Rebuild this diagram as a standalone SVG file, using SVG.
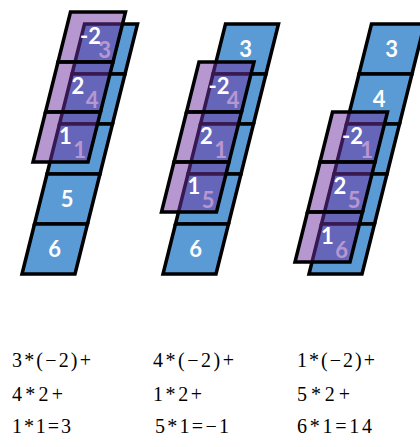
<svg xmlns="http://www.w3.org/2000/svg" width="420" height="447" viewBox="0 0 420 447">
<style>
.b{fill:#5B9BD5;stroke:#000;stroke-width:3.5;stroke-linejoin:miter}
.p{fill:#7030A0;fill-opacity:0.5;stroke:#000;stroke-width:3.5;stroke-linejoin:miter}
.n{font-family:Lato,'Open Sans','Liberation Sans',sans-serif;font-weight:bold;font-size:22px;fill:#fff;text-anchor:middle}
.e{font-family:'Liberation Serif','DejaVu Serif',serif;font-size:20px;fill:#000}
</style>
<rect width="420" height="447" fill="#fff"/>
<!-- column 1 -->
<g id="c1-0"><polygon class="b" points="84.5,24 137.5,24 125,74 72,74"/><text class="n" x="104.75" y="58">3</text></g>
<g id="c1-1"><polygon class="b" points="72,74 125,74 112.5,124 59.5,124"/><text class="n" x="92.25" y="108">4</text></g>
<g id="c1-2"><polygon class="b" points="59.5,124 112.5,124 100,174 47,174"/><text class="n" x="79.75" y="158">1</text></g>
<g id="c1-3"><polygon class="b" points="47,174 100,174 87.5,224 34.5,224"/><text class="n" x="67.25" y="207">5</text></g>
<g id="c1-4"><polygon class="b" points="34.5,224 87.5,224 75,274 22,274"/><text class="n" x="54.75" y="257">6</text></g>
<!-- column 2 -->
<g id="c2-0"><polygon class="b" points="225.5,24 278.5,24 266,74 213,74"/><text class="n" x="245.75" y="57">3</text></g>
<g id="c2-1"><polygon class="b" points="213,74 266,74 253.5,124 200.5,124"/><text class="n" x="233.25" y="108">4</text></g>
<g id="c2-2"><polygon class="b" points="200.5,124 253.5,124 241,174 188,174"/><text class="n" x="220.75" y="158">1</text></g>
<g id="c2-3"><polygon class="b" points="188,174 241,174 228.5,224 175.5,224"/><text class="n" x="208.25" y="208">5</text></g>
<g id="c2-4"><polygon class="b" points="175.5,224 228.5,224 216,274 163,274"/><text class="n" x="195.75" y="257">6</text></g>
<!-- column 3 -->
<g id="c3-0"><polygon class="b" points="371.5,24 424.5,24 412,74 359,74"/><text class="n" x="391.75" y="57">3</text></g>
<g id="c3-1"><polygon class="b" points="359,74 412,74 399.5,124 346.5,124"/><text class="n" x="379.25" y="107">4</text></g>
<g id="c3-2"><polygon class="b" points="346.5,124 399.5,124 387,174 334,174"/><text class="n" x="366.75" y="158">1</text></g>
<g id="c3-3"><polygon class="b" points="334,174 387,174 374.5,224 321.5,224"/><text class="n" x="354.25" y="208">5</text></g>
<g id="c3-4"><polygon class="b" points="321.5,224 374.5,224 362,274 309,274"/><text class="n" x="341.75" y="258">6</text></g>
<!-- filters -->
<g id="p1-0"><polygon class="p" points="70.5,12 125.5,12 113,62 58,62"/><text class="n" x="90.5" y="44">-2</text></g>
<g id="p1-1"><polygon class="p" points="58,62 113,62 100.5,112 45.5,112"/><text class="n" x="78" y="94">2</text></g>
<g id="p1-2"><polygon class="p" points="45.5,112 100.5,112 88,162 33,162"/><text class="n" x="65.5" y="144">1</text></g>
<g id="p2-0"><polygon class="p" points="199,62 254,62 241.5,112 186.5,112"/><text class="n" x="219" y="94">-2</text></g>
<g id="p2-1"><polygon class="p" points="186.5,112 241.5,112 229,162 174,162"/><text class="n" x="206.5" y="144">2</text></g>
<g id="p2-2"><polygon class="p" points="174,162 229,162 216.5,212 161.5,212"/><text class="n" x="194" y="194">1</text></g>
<g id="p3-0"><polygon class="p" points="332.5,112 387.5,112 375,162 320,162"/><text class="n" x="352.5" y="144">-2</text></g>
<g id="p3-1"><polygon class="p" points="320,162 375,162 362.5,212 307.5,212"/><text class="n" x="340" y="194">2</text></g>
<g id="p3-2"><polygon class="p" points="307.5,212 362.5,212 350,262 295,262"/><text class="n" x="327.5" y="244">1</text></g>
<!-- equations -->
<g id="eq1">
<text class="e" x="12" y="367" textLength="79" lengthAdjust="spacing">3*(−2)+</text>
<text class="e" x="12" y="401" textLength="51" lengthAdjust="spacing">4*2+</text>
<text class="e" x="12" y="433" textLength="59" lengthAdjust="spacing">1*1=3</text>
</g>
<g id="eq2">
<text class="e" x="153" y="367" textLength="81" lengthAdjust="spacing">4*(−2)+</text>
<text class="e" x="153" y="401" textLength="49" lengthAdjust="spacing">1*2+</text>
<text class="e" x="155" y="433" textLength="74" lengthAdjust="spacing">5*1=−1</text>
</g>
<g id="eq3">
<text class="e" x="297" y="367" textLength="78" lengthAdjust="spacing">1*(−2)+</text>
<text class="e" x="297" y="401" textLength="53" lengthAdjust="spacing">5*2+</text>
<text class="e" x="297" y="433" textLength="75" lengthAdjust="spacing">6*1=14</text>
</g>
</svg>
